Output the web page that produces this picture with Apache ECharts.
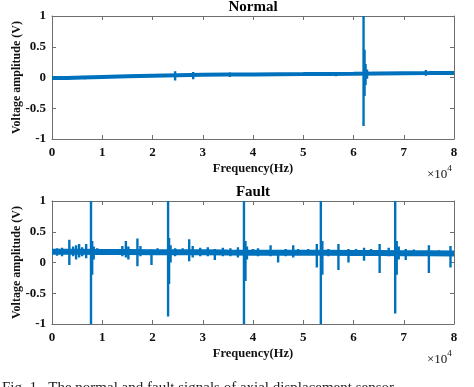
<!DOCTYPE html>
<html>
<head>
<meta charset="utf-8">
<script src="https://cdn.jsdelivr.net/npm/echarts@6/dist/echarts.min.js"></script>
<style>
html,body{margin:0;padding:0;background:#fff;}
#chart{width:474px;height:387px;}
</style>
</head>
<body>
<div id="chart"></div>
<script>
// x values are in units of 10^4 Hz
const xTicks = [0,1,2,3,4,5,6,7,8];
const yTicks = [-1,-0.5,0,0.5,1];

// Normal signal: baseline [x, value]
const normalBase = [[0,-0.01],[0.3,-0.008],[0.6,0.0],[1,0.01],[1.5,0.02],[2,0.03],[2.5,0.038],[3,0.045],[3.5,0.048],[4,0.05],[4.5,0.053],[5,0.055],[5.5,0.058],[6,0.06],[6.5,0.065],[7,0.07],[7.5,0.072],[8,0.075]];
// Normal signal spikes: [x, top, bottom]
const normalSpikes = [[0.17,0.01,-0.04],[0.65,0.01,-0.03],[1.2,0.03,-0.01],[2.45,0.1,-0.05],[2.81,0.09,-0.03],[3.54,0.08,0.01],[4.5,0.07,0.03],[5.65,0.09,0.02],[6.2,1.0,-0.79],[6.22,0.45,-0.3],[6.24,0.22,-0.12],[6.27,0.13,-0.02],[7.44,0.12,0.03]];

// Fault signal: baseline [x, value]
const faultBase = [[0,0.175],[0.5,0.175],[1,0.17],[1.5,0.17],[2,0.168],[2.5,0.165],[3,0.165],[3.5,0.162],[4,0.16],[4.5,0.16],[5,0.158],[5.5,0.158],[6,0.155],[6.5,0.155],[7,0.152],[7.5,0.15],[8,0.145]];
// Fault signal spikes: [x, top, bottom]
const faultSpikes = [
 [0.1,0.23,0.11],[0.2,0.24,0.1],[0.345,0.37,-0.04],[0.42,0.26,0.1],[0.48,0.28,0.05],[0.54,0.3,0.08],[0.6,0.25,0.1],[0.68,0.3,0.07],
 [0.776,1.0,-1.0],[0.8,0.35,-0.2],[0.83,0.26,0.05],[0.9,0.23,0.12],[1.05,0.22,0.12],[1.3,0.22,0.12],[1.4,0.27,0.1],[1.47,0.35,0.08],
 [1.52,0.26,0.05],[1.7,0.39,-0.06],[1.76,0.27,0.1],[1.98,0.21,-0.04],[2.1,0.23,0.12],[2.31,1.0,-0.88],[2.33,0.4,-0.35],[2.36,0.28,0.0],
 [2.45,0.23,0.1],[2.6,0.23,0.12],[2.73,0.38,0.02],[2.8,0.27,0.08],[2.95,0.24,0.1],[3.1,0.25,0.1],[3.24,0.22,0.04],[3.4,0.24,0.1],
 [3.55,0.23,0.1],[3.7,0.25,0.08],[3.82,1.0,-1.0],[3.85,0.35,-0.3],[3.88,0.26,0.05],[4.0,0.22,0.12],[4.1,0.23,0.1],[4.35,0.28,0.1],
 [4.5,0.2,0.0],[4.65,0.22,0.1],[4.8,0.28,0.08],[4.9,0.22,0.12],[5.1,0.22,0.12],[5.27,0.3,-0.08],[5.35,1.0,-1.0],[5.38,0.35,-0.2],
 [5.5,0.22,0.1],[5.7,0.3,-0.12],[5.9,0.22,0.0],[6.05,0.22,0.12],[6.21,0.24,0.03],[6.35,0.22,0.12],[6.52,0.3,-0.17],[6.7,0.24,0.1],
 [6.83,1.0,-0.83],[6.86,0.35,-0.2],[6.9,0.26,0.05],[7.04,0.22,0.04],[7.2,0.21,0.12],[7.5,0.28,-0.17],[7.7,0.2,0.12],[7.93,0.27,-0.08]
];

const titles = ['Normal','Fault'];
const xName = 'Frequency(Hz)';
const yName = 'Voltage amplitude (V)';
const caption = 'Fig. 1   The normal and fault signals of axial displacement sensor';

const BLUE = '#0072BD';
const AX = '#6e6e6e';
const FONT = '"Liberation Serif","Times New Roman",serif';

function spikeData(sp){
  const out = [];
  sp.forEach(s => { out.push([s[0], s[1]]); out.push([s[0], s[2]]); out.push([s[0], '-']); });
  return out;
}

const grids = [
  {left:52, right:20, top:16, height:123},
  {left:52, right:20, top:201, height:123}
];

const xAxes = [], yAxes = [];
grids.forEach((g,i) => {
  xAxes.push({type:'value', gridIndex:i, min:0, max:8, interval:1, position:'bottom',
    axisLine:{show:true, onZero:false, lineStyle:{color:AX, width:1}},
    axisTick:{show:true, inside:true, length:4, lineStyle:{color:AX}},
    axisLabel:{color:'#111', fontFamily:FONT, fontWeight:'bold', fontSize:13, margin:7},
    splitLine:{show:false}});
  xAxes.push({type:'value', gridIndex:i, min:0, max:8, interval:1, position:'top',
    axisLine:{show:true, onZero:false, lineStyle:{color:AX, width:1}},
    axisTick:{show:true, inside:true, length:4, lineStyle:{color:AX}},
    axisLabel:{show:false}, splitLine:{show:false}});
  yAxes.push({type:'value', gridIndex:i, min:-1, max:1, interval:0.5, position:'left',
    axisLine:{show:true, onZero:false, lineStyle:{color:AX, width:1}},
    axisTick:{show:true, inside:true, length:4, lineStyle:{color:AX}},
    axisLabel:{color:'#111', fontFamily:FONT, fontWeight:'bold', fontSize:13, margin:6},
    splitLine:{show:false}});
  yAxes.push({type:'value', gridIndex:i, min:-1, max:1, interval:0.5, position:'right',
    axisLine:{show:true, onZero:false, lineStyle:{color:AX, width:1}},
    axisTick:{show:true, inside:true, length:4, lineStyle:{color:AX}},
    axisLabel:{show:false}, splitLine:{show:false}});
});

const series = [];
[[normalBase, normalSpikes, 4],[faultBase, faultSpikes, 6]].forEach((d,i) => {
  series.push({type:'line', xAxisIndex:i*2, yAxisIndex:i*2, data:d[0], showSymbol:false, symbol:'none',
    lineStyle:{color:BLUE, width:d[2]}, animation:false, z:3});
  series.push({type:'line', xAxisIndex:i*2, yAxisIndex:i*2, data:spikeData(d[1]), showSymbol:false, symbol:'none',
    connectNulls:false, lineStyle:{color:BLUE, width:2.4}, animation:false, z:4});
});

const graphic = [];
grids.forEach((g,i) => {
  const cx = g.left + (474 - g.left - g.right)/2;
  graphic.push({type:'text', x:cx, y:g.top-16, style:{text:titles[i], font:'bold 15px '+FONT, fill:'#000', textAlign:'center'}});
  graphic.push({type:'text', x:cx, y:g.top+g.height+23, style:{text:xName, font:'bold 12.5px '+FONT, fill:'#111', textAlign:'center'}});
  graphic.push({type:'text', top:g.top+g.height+25, left:427, style:{
    text:'{a|×10}{b|4}', rich:{a:{font:'13px '+FONT, fill:'#111', verticalAlign:'bottom'}, b:{font:'9px '+FONT, fill:'#111', verticalAlign:'top', padding:[0,0,8,0]}}}});
  graphic.push({type:'text', rotation:Math.PI/2, x:11, y:g.top+g.height/2, style:{text:yName, font:'bold 12px '+FONT, fill:'#111', textAlign:'center'}});
});
graphic.push({type:'text', left:2, top:381, style:{text:caption, font:'15px '+FONT, fill:'#222'}});

const chart = echarts.init(document.getElementById('chart'), null, {renderer:'canvas'});
chart.setOption({
  backgroundColor:'#fff',
  animation:false,
  grid:grids,
  xAxis:xAxes,
  yAxis:yAxes,
  series:series,
  graphic:graphic
});
</script>
</body>
</html>
